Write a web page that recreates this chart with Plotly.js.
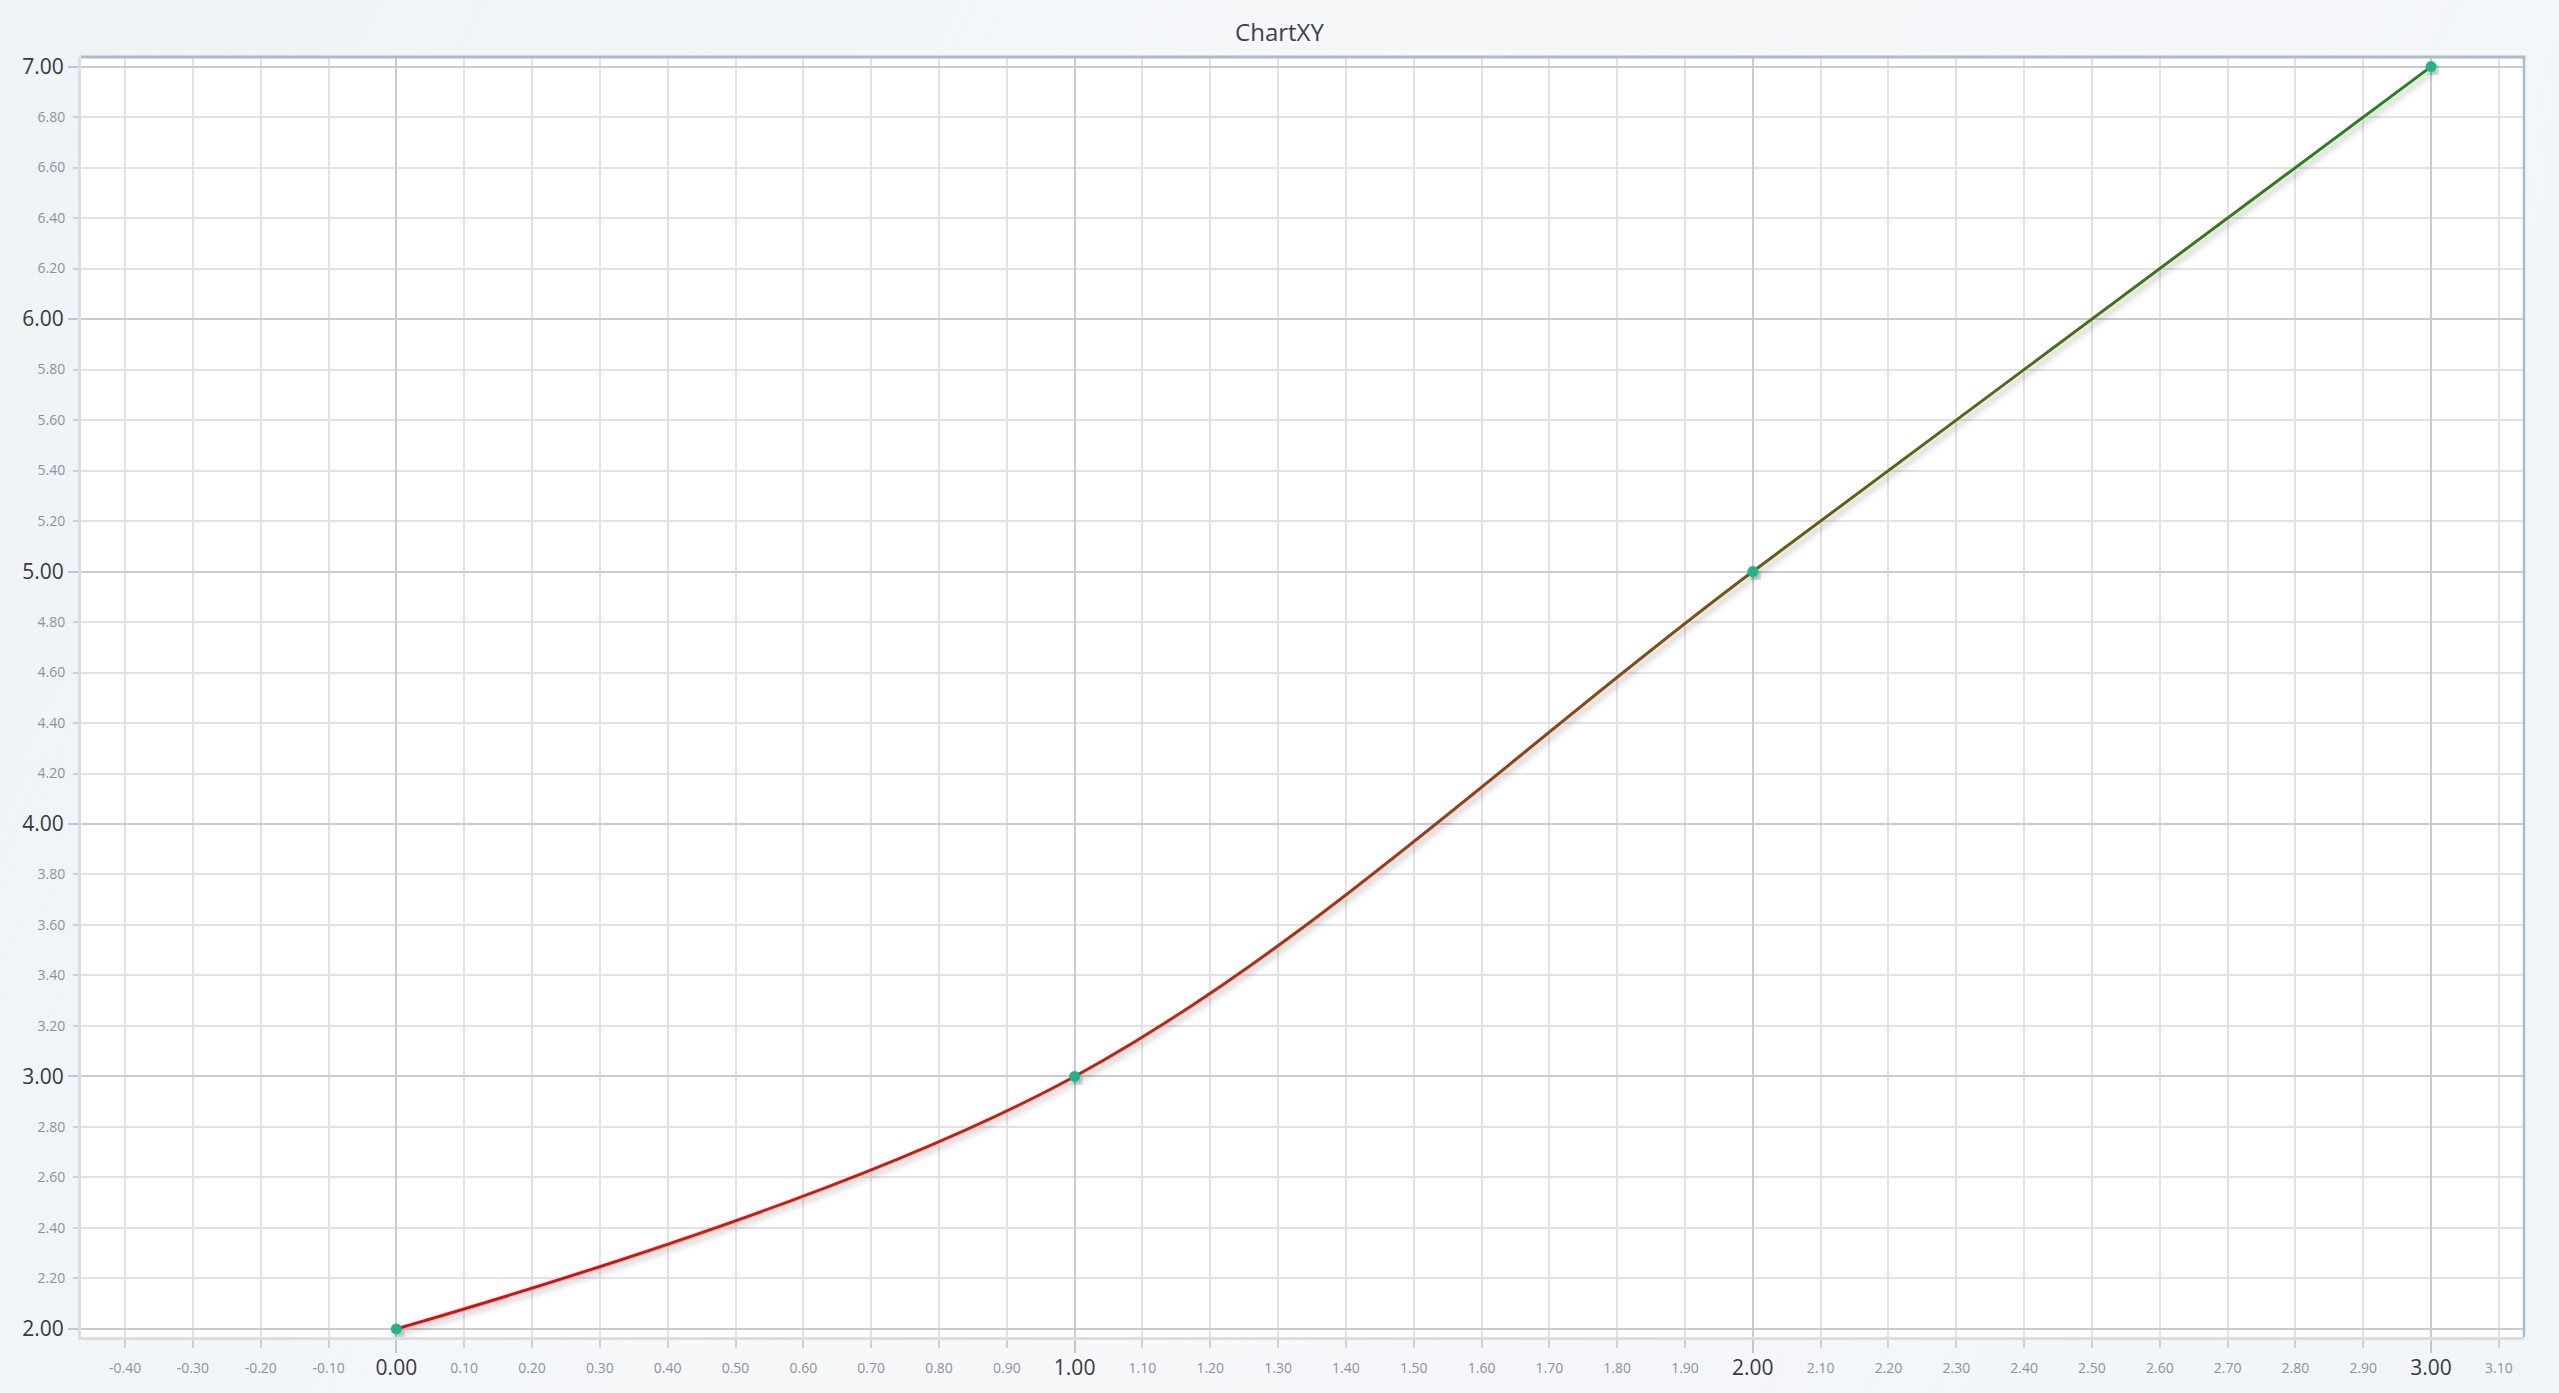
<!DOCTYPE html>
<html>
<head>
<meta charset="utf-8">
<title>ChartXY</title>
<script src="https://cdn.plot.ly/plotly-3.0.1.min.js"></script>
<style>
  html, body {
    margin: 0;
    padding: 0;
    width: 2559px;
    height: 1393px;
    overflow: hidden;
    background: linear-gradient(115deg, #eef3f6 0%, #f6f8fa 45%, #f2f5f8 100%);
  }
  #chart {
    width: 2559px;
    height: 1393px;
  }
</style>
</head>
<body>
<div id="chart"></div>
<script>
// series points (spline goes through them)
const xValues = [0, 1, 2, 3];
const yValues = [2, 3, 5, 7];

// axis ticks
const xMajorTicks = [0, 1, 2, 3];
const xMinorTicks = [-0.4, -0.3, -0.2, -0.1, 0.1, 0.2, 0.3, 0.4, 0.5, 0.6, 0.7, 0.8, 0.9,
  1.1, 1.2, 1.3, 1.4, 1.5, 1.6, 1.7, 1.8, 1.9, 2.1, 2.2, 2.3, 2.4, 2.5, 2.6, 2.7, 2.8, 2.9, 3.1];
const yMajorTicks = [2, 3, 4, 5, 6, 7];
const yMinorTicks = [2.2, 2.4, 2.6, 2.8, 3.2, 3.4, 3.6, 3.8, 4.2, 4.4, 4.6, 4.8,
  5.2, 5.4, 5.6, 5.8, 6.2, 6.4, 6.6, 6.8];

const X_RANGE = [-0.465, 3.137];
const Y_RANGE = [1.968, 7.038];

const THEME = {
  title: "#3c434a",
  major: "#353b41",
  minor: "#8d9297",
  gridMajor: "#cbcbcb",
  gridMinor: "#e2e2e2",
  axisLine: "#dadde1",
  border: "#a9bbcc",
  marker: "#1bb68b",
  fontFamily: "\"Open Sans\", \"Noto Sans\", sans-serif",
};

const fmt = (v) => v.toFixed(2);

const traces = [
  {
    type: "scatter",
    mode: "lines",
    x: xValues,
    y: yValues,
    line: { shape: "spline", smoothing: 1, color: "#ff0000", width: 3 },
    hoverinfo: "skip",
    showlegend: false,
  },
  {
    type: "scatter",
    mode: "markers",
    x: xValues,
    y: yValues,
    marker: { color: THEME.marker, size: 11 },
    hovertemplate: "x=%{x:.2f}<br>y=%{y:.2f}<extra></extra>",
    showlegend: false,
  },
];

const layout = {
  width: 2559,
  height: 1393,
  paper_bgcolor: "rgba(0,0,0,0)",
  plot_bgcolor: "#ffffff",
  font: { family: THEME.fontFamily, color: THEME.major },
  margin: { l: 81, r: 35, t: 57, b: 56 },
  title: {
    text: "ChartXY",
    font: { size: 24, color: THEME.title, family: THEME.fontFamily },
    x: 0.5,
    xanchor: "center",
    y: 1 - 33 / 1393,
    yanchor: "middle",
  },
  xaxis: {
    range: X_RANGE,
    tickmode: "array",
    tickvals: xMajorTicks,
    ticktext: xMajorTicks.map(fmt),
    tickfont: { size: 21, color: THEME.major },
    ticks: "outside",
    ticklen: 13,
    tickwidth: 2,
    tickcolor: "#c6c6c6",
    ticklabelstandoff: -3,
    showgrid: true,
    gridcolor: THEME.gridMajor,
    gridwidth: 2,
    minor: {
      tickmode: "array",
      tickvals: xMinorTicks,
      ticks: "outside",
      ticklen: 8,
      tickwidth: 1.5,
      tickcolor: "#d0d0d0",
      showgrid: true,
      gridcolor: THEME.gridMinor,
      gridwidth: 1.6,
    },
    zeroline: false,
    showline: true,
    linecolor: THEME.axisLine,
    linewidth: 3,
    fixedrange: true,
  },
  xaxis2: {
    overlaying: "x",
    side: "bottom",
    range: X_RANGE,
    tickmode: "array",
    tickvals: xMinorTicks,
    ticktext: xMinorTicks.map(fmt),
    tickfont: { size: 14, color: THEME.minor },
    ticks: "outside",
    ticklen: 13,
    tickcolor: "rgba(0,0,0,0)",
    ticklabelstandoff: 5,
    showgrid: false,
    zeroline: false,
    showline: false,
    fixedrange: true,
  },
  yaxis: {
    range: Y_RANGE,
    tickmode: "array",
    tickvals: yMajorTicks,
    ticktext: yMajorTicks.map(fmt),
    tickfont: { size: 21, color: THEME.major },
    ticks: "outside",
    ticklen: 10,
    tickwidth: 2,
    tickcolor: "#c6c6c6",
    showgrid: true,
    gridcolor: THEME.gridMajor,
    gridwidth: 2,
    minor: {
      tickmode: "array",
      tickvals: yMinorTicks,
      ticks: "outside",
      ticklen: 5,
      tickwidth: 1.5,
      tickcolor: "#d0d0d0",
      showgrid: true,
      gridcolor: THEME.gridMinor,
      gridwidth: 1.6,
    },
    zeroline: false,
    showline: true,
    linecolor: THEME.axisLine,
    linewidth: 3,
    fixedrange: true,
  },
  yaxis2: {
    overlaying: "y",
    side: "left",
    range: Y_RANGE,
    tickmode: "array",
    tickvals: yMinorTicks,
    ticktext: yMinorTicks.map(fmt),
    tickfont: { size: 14, color: THEME.minor },
    ticks: "outside",
    ticklen: 10,
    tickcolor: "rgba(0,0,0,0)",
    ticklabelstandoff: 2,
    showgrid: false,
    zeroline: false,
    showline: false,
    fixedrange: true,
  },
  shapes: [
    { type: "line", xref: "paper", yref: "paper", x0: 0, x1: 1.0006, y0: 1, y1: 1,
      line: { color: THEME.border, width: 3 } },
    { type: "line", xref: "paper", yref: "paper", x0: 1, x1: 1, y0: 0, y1: 1,
      line: { color: THEME.border, width: 2.5 } },
  ],
};

// empty trace so the overlay axes get drawn
traces.push({ type: "scatter", x: [], y: [], xaxis: "x2", yaxis: "y2", showlegend: false, hoverinfo: "skip" });

function styleLine(gd) {
  const svg = gd.querySelector(".main-svg");
  const defs = svg.querySelector("defs");
  const ns = "http://www.w3.org/2000/svg";

  const grad = document.createElementNS(ns, "linearGradient");
  grad.setAttribute("id", "lineGrad");
  grad.setAttribute("x1", "0");
  grad.setAttribute("y1", "1");
  grad.setAttribute("x2", "0");
  grad.setAttribute("y2", "0");
  [["0%", "#ff0000"], ["25%", "#d41c08"], ["60%", "#6e5a0c"], ["100%", "#168c16"]].forEach(([off, col]) => {
    const stop = document.createElementNS(ns, "stop");
    stop.setAttribute("offset", off);
    stop.setAttribute("stop-color", col);
    grad.appendChild(stop);
  });
  defs.appendChild(grad);

  const filter = document.createElementNS(ns, "filter");
  filter.setAttribute("id", "lineShadow");
  filter.setAttribute("x", "-10%");
  filter.setAttribute("y", "-10%");
  filter.setAttribute("width", "130%");
  filter.setAttribute("height", "130%");
  const shadow = document.createElementNS(ns, "feDropShadow");
  shadow.setAttribute("dx", "3");
  shadow.setAttribute("dy", "4");
  shadow.setAttribute("stdDeviation", "3");
  shadow.setAttribute("flood-color", "#000000");
  shadow.setAttribute("flood-opacity", "0.28");
  filter.appendChild(shadow);
  defs.appendChild(filter);

  const path = gd.querySelector(".scatterlayer .trace .js-line");
  if (path) {
    path.style.setProperty("stroke", "url(#lineGrad)");
    path.setAttribute("filter", "url(#lineShadow)");
  }
  gd.querySelectorAll(".scatterlayer .trace .point").forEach((p) => {
    p.setAttribute("filter", "url(#lineShadow)");
  });
}

const gd = document.getElementById("chart");
Plotly.newPlot(gd, traces, layout, { displayModeBar: false }).then(styleLine);
</script>
</body>
</html>
